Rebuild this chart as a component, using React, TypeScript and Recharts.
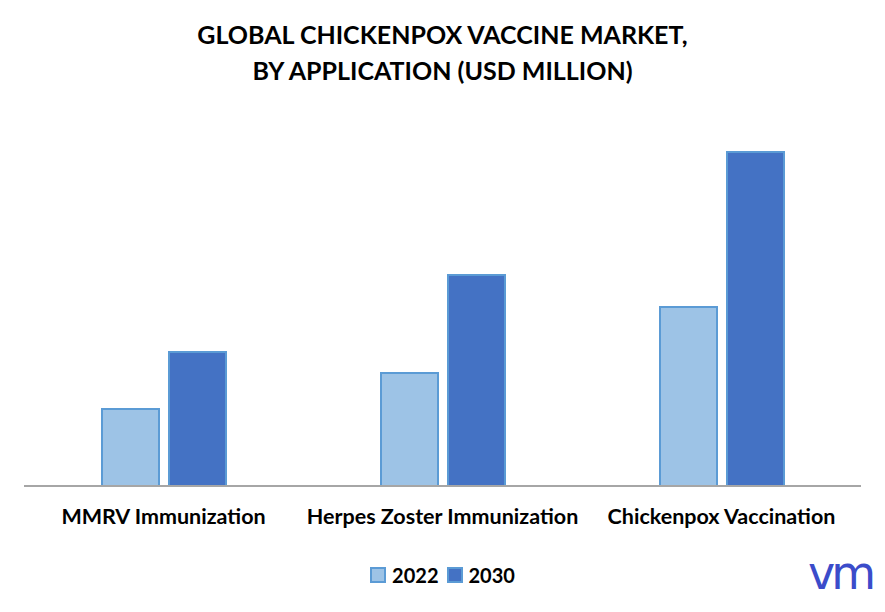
import { BarChart, Bar, XAxis, YAxis } from "recharts";

const categories = ["MMRV Immunization", "Herpes Zoster Immunization", "Chickenpox Vaccination"];
const values2022 = [77, 113, 179];
const values2030 = [134, 211, 334];
const seriesNames = ["2022", "2030"];

const data = categories.map((name, i) => ({
    name,
    y2022: values2022[i],
    y2030: values2030[i],
}));

const FONT = "Lato, 'Open Sans', sans-serif";
const fills = ["#9dc3e6", "#4472c4"];

export default function App() {
    return (
        <div style={{ position: "absolute", left: 0, top: 0, width: 885, height: 612, background: "#fff" }}>
            <div style={{ position: "absolute", top: 16, left: 0, width: 885, textAlign: "center", fontFamily: FONT, fontWeight: 700, fontSize: 25, lineHeight: "36px", color: "#000" }}>
                GLOBAL CHICKENPOX VACCINE MARKET,<br />BY APPLICATION (USD MILLION)
            </div>
            <BarChart
                width={885}
                height={612}
                data={data}
                margin={{ top: 86, right: 24, bottom: 96, left: 24 }}
                barSize={57}
                barGap={10}
            >
                <YAxis hide domain={[0, 400]} />
                <XAxis
                    dataKey="name"
                    height={30}
                    axisLine={{ stroke: "#a6a6a6", strokeWidth: 2 }}
                    tickLine={false}
                    tick={{ fill: "#000", fontSize: 21.5, fontWeight: 700, fontFamily: FONT }}
                    tickMargin={17}
                    interval={0}
                />
                <Bar dataKey="y2022" name="2022" fill={fills[0]} stroke="#5b9bd5" strokeWidth={2} isAnimationActive={false} />
                <Bar dataKey="y2030" name="2030" fill={fills[1]} stroke="#5b9bd5" strokeWidth={2} isAnimationActive={false} />
            </BarChart>
            <div style={{ position: "absolute", top: 563, left: 0, width: 885, display: "flex", justifyContent: "center", alignItems: "center", gap: 8, fontFamily: FONT, fontWeight: 700, fontSize: 20, color: "#000" }}>
                {seriesNames.map((s, i) => (
                    <div key={s} style={{ display: "flex", alignItems: "center", gap: 6 }}>
                        <div style={{ width: 12, height: 12, background: fills[i], border: "2px solid #5b9bd5" }}></div>
                        <span>{s}</span>
                    </div>
                ))}
            </div>
            <div style={{ position: "absolute", left: 808, top: 548, fontFamily: "'DejaVu Sans', sans-serif", fontSize: 46, color: "#3b4cca", letterSpacing: -4, lineHeight: "50px" }}>
                vm
            </div>
        </div>
    );
}
